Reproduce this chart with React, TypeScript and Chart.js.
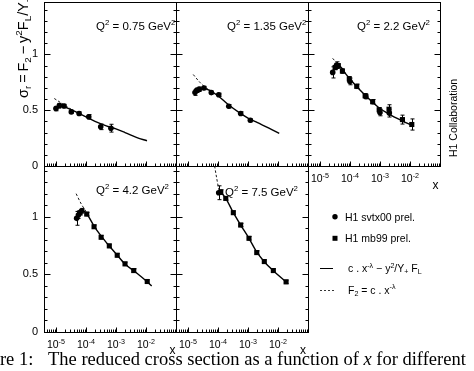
import React, { useEffect, useRef } from 'react';
import { Chart, registerables } from 'chart.js';
Chart.register(...registerables);

type Pt = [number, number, number];
type XY = [number, number];

// ---------- data (x, y, error) ----------
const q2Values = ['0.75', '1.35', '2.2', '4.2', '7.5'];

const q075Svtx: Pt[] = [[1.0e-5, 0.515, 0.02], [1.3e-5, 0.541, 0.02], [1.86e-5, 0.538, 0.015], [3.25e-5, 0.485, 0.015], [5.9e-5, 0.471, 0.015], [1.24e-4, 0.441, 0.02], [3.1e-4, 0.351, 0.025], [6.8e-4, 0.339, 0.035]];
const q075Fit: XY[] = [[1.15e-5, 0.55], [2e-5, 0.528], [3.5e-5, 0.5], [5e-5, 0.48], [1e-4, 0.44], [2e-4, 0.4], [5e-4, 0.358], [1e-3, 0.332], [2e-3, 0.3], [5e-3, 0.255], [1.08e-2, 0.226]];
const q075Dash: XY[] = [[8.8e-6, 0.605], [1.4e-5, 0.57], [2.3e-5, 0.533], [3.5e-5, 0.502]];

const q135Svtx: Pt[] = [[1.72e-5, 0.658, 0.025], [1.96e-5, 0.679, 0.02], [2.4e-5, 0.688, 0.02], [3.4e-5, 0.699, 0.015], [6.0e-5, 0.658, 0.015], [1.06e-4, 0.638, 0.015], [2.29e-4, 0.535, 0.015], [5.7e-4, 0.471, 0.015], [1.2e-3, 0.41, 0.015]];
const q135Fit: XY[] = [[1.65e-5, 0.64], [2.2e-5, 0.675], [3.2e-5, 0.7], [5e-5, 0.68], [1e-4, 0.63], [2e-4, 0.56], [5e-4, 0.48], [1e-3, 0.43], [2e-3, 0.39], [5e-3, 0.34], [1.1e-2, 0.293]];
const q135Dash: XY[] = [[1.5e-5, 0.82], [2.5e-5, 0.75], [4e-5, 0.7], [6e-5, 0.675]];

const q22Svtx: Pt[] = [[2.66e-5, 0.839, 0.05], [3.6e-5, 0.904, 0.03], [1.0e-4, 0.758, 0.03], [3.4e-4, 0.623, 0.02], [1.0e-3, 0.48, 0.03], [2.05e-3, 0.474, 0.035]];
const q22Mb99: Pt[] = [[3.2e-5, 0.883, 0.02], [4.1e-5, 0.898, 0.02], [5.6e-5, 0.851, 0.02], [9.5e-5, 0.781, 0.02], [1.68e-4, 0.714, 0.02], [3.2e-4, 0.629, 0.02], [5.7e-4, 0.576, 0.02], [9.4e-4, 0.504, 0.02], [2.0e-3, 0.509, 0.04], [5.6e-3, 0.416, 0.04], [1.15e-2, 0.372, 0.05]];
const q22Fit: XY[] = [[2.7e-5, 0.85], [3.5e-5, 0.89], [4.5e-5, 0.895], [7e-5, 0.83], [1e-4, 0.78], [2e-4, 0.69], [5e-4, 0.585], [1e-3, 0.515], [2e-3, 0.465], [5e-3, 0.41], [1.15e-2, 0.365]];
const q22Dash: XY[] = [[2.65e-5, 0.965], [3.6e-5, 0.925], [5e-5, 0.885], [7e-5, 0.835]];

const q42Svtx: Pt[] = [[4.9e-5, 0.986, 0.06], [5.6e-5, 1.015, 0.03], [7.2e-5, 1.052, 0.02]];
const q42Mb99: Pt[] = [[6.3e-5, 1.035, 0.02], [1.06e-4, 1.023, 0.015], [1.86e-4, 0.913, 0.015], [3.2e-4, 0.822, 0.015], [6.0e-4, 0.747, 0.015], [1.1e-3, 0.666, 0.015], [2.0e-3, 0.591, 0.015], [3.9e-3, 0.533, 0.015], [1.1e-2, 0.438, 0.015]];
const q42Fit: XY[] = [[4.8e-5, 0.97], [6e-5, 1.03], [8e-5, 1.05], [1e-4, 1.035], [2e-4, 0.905], [5e-4, 0.77], [1e-3, 0.68], [2e-3, 0.59], [5e-3, 0.51], [1e-2, 0.445], [1.55e-2, 0.4]];
const q42Dash: XY[] = [[4.7e-5, 1.2], [7e-5, 1.11], [1.1e-4, 1.03]];

const q75Svtx: Pt[] = [[1.06e-4, 1.208, 0.06]];
const q75Mb99: Pt[] = [[1.24e-4, 1.214, 0.02], [1.82e-4, 1.159, 0.015], [3.25e-4, 1.035, 0.015], [5.7e-4, 0.928, 0.015], [1.08e-3, 0.813, 0.015], [1.96e-3, 0.689, 0.015], [3.5e-3, 0.611, 0.015], [7.0e-3, 0.533, 0.015], [1.86e-2, 0.435, 0.015]];
const q75Fit: XY[] = [[1.05e-4, 1.225], [1.25e-4, 1.21], [1.82e-4, 1.16], [3.25e-4, 1.035], [5.7e-4, 0.928], [1.08e-3, 0.813], [2e-3, 0.69], [3.5e-3, 0.61], [7e-3, 0.532], [1.86e-2, 0.435]];
const q75Dash: XY[] = [[7.3e-5, 1.48], [9e-5, 1.34], [1.05e-4, 1.25], [1.2e-4, 1.215]];

const xTickExps = [-5, -4, -3, -2];
const yTickVals = [0, 0.5, 1];
const legendLabels = ['H1 svtx00 prel.', 'H1 mb99 prel.'];

// ---------- layout ----------
const W = 474;
const H = 373;
const OFF = 2;
const X_MIN = 4e-6;
const X_MAX = 0.1;
const FONT = '"Liberation Sans", Arial, Helvetica, sans-serif';
const THIN = '\u2009';

type Seg = [string, number];

type Panel = {
  q2: string; svtx: Pt[]; mb99: Pt[]; fit: XY[]; dash: XY[];
  box: [number, number, number, number]; yMax: number;
  yLabels: boolean; xLabels: boolean; xTitle: [number, number] | null;
  q2Pos: [number, number]; extras?: boolean;
};

const panels: Panel[] = [
  { q2: q2Values[0], svtx: q075Svtx, mb99: [], fit: q075Fit, dash: q075Dash, box: [44, -2, 176, 166], yMax: 1.47, yLabels: true, xLabels: false, xTitle: null, q2Pos: [96, 30] },
  { q2: q2Values[1], svtx: q135Svtx, mb99: [], fit: q135Fit, dash: q135Dash, box: [176, -2, 308, 166], yMax: 1.47, yLabels: false, xLabels: false, xTitle: null, q2Pos: [227, 30] },
  { q2: q2Values[2], svtx: q22Svtx, mb99: q22Mb99, fit: q22Fit, dash: q22Dash, box: [308, -2, 440, 166], yMax: 1.47, yLabels: false, xLabels: true, xTitle: [435.5, 188.5], q2Pos: [357, 30], extras: true },
  { q2: q2Values[3], svtx: q42Svtx, mb99: q42Mb99, fit: q42Fit, dash: q42Dash, box: [44, 166, 176, 332], yMax: 1.44, yLabels: true, xLabels: true, xTitle: [172.5, 354], q2Pos: [96, 194] },
  { q2: q2Values[4], svtx: q75Svtx, mb99: q75Mb99, fit: q75Fit, dash: q75Dash, box: [176, 166, 308, 332], yMax: 1.44, yLabels: false, xLabels: true, xTitle: [303, 354], q2Pos: [225, 196] },
];

function drawRich(ctx: CanvasRenderingContext2D, segs: Seg[], x: number, y: number, size: number, align: 'left' | 'center' | 'right' = 'left') {
  ctx.save();
  ctx.textBaseline = 'alphabetic';
  ctx.textAlign = 'left';
  ctx.fillStyle = '#000';
  const parts = segs.map(([t, k]) => {
    const s = k === 0 ? size : size * 0.68;
    ctx.font = `${s}px ${FONT}`;
    return { t, k, s, w: ctx.measureText(t).width };
  });
  const total = parts.reduce((a, p) => a + p.w, 0);
  let cx = align === 'left' ? x : align === 'center' ? x - total / 2 : x - total;
  for (const p of parts) {
    ctx.font = `${p.s}px ${FONT}`;
    const dy = p.k === 1 ? -size * 0.42 : p.k === -1 ? size * 0.22 : 0;
    ctx.fillText(p.t, cx, y + dy);
    cx += p.w;
  }
  ctx.restore();
}

function drawExtras(ctx: CanvasRenderingContext2D) {
  ctx.save();
  ctx.translate(0, OFF);
  // y-axis title (rotated)
  ctx.save();
  ctx.translate(28, 98);
  ctx.rotate(-Math.PI / 2);
  drawRich(ctx, [['σ', 0], ['r', -1], [THIN + '=' + THIN + 'F', 0], ['2', -1], [THIN + '−' + THIN + 'y', 0], ['2', 1], ['F', 0], ['L', -1], ['/Y', 0], ['+', -1]], 0, 0, 14.5);
  ctx.restore();
  // H1 Collaboration
  ctx.save();
  ctx.translate(457, 157);
  ctx.rotate(-Math.PI / 2);
  drawRich(ctx, [['H1 Collaboration', 0]], 0, 0, 10.5);
  ctx.restore();
  // legend
  ctx.fillStyle = '#000';
  ctx.beginPath();
  ctx.arc(335, 216.7, 2.7, 0, Math.PI * 2);
  ctx.fill();
  ctx.fillRect(332.5, 235.8, 5, 5);
  drawRich(ctx, [[legendLabels[0], 0]], 345, 220.5, 10.5);
  drawRich(ctx, [[legendLabels[1], 0]], 345, 242, 10.5);
  ctx.strokeStyle = '#000';
  ctx.lineWidth = 1;
  ctx.beginPath();
  ctx.moveTo(320, 268.5);
  ctx.lineTo(333, 268.5);
  ctx.stroke();
  ctx.setLineDash([2, 2]);
  ctx.lineWidth = 0.8;
  ctx.beginPath();
  ctx.moveTo(320, 290.5);
  ctx.lineTo(334, 290.5);
  ctx.stroke();
  ctx.setLineDash([]);
  drawRich(ctx, [['c . x', 0], ['-λ', 1], [' − y', 0], ['2', 1], ['/Y', 0], ['+', -1], [' F', 0], ['L', -1]], 348, 272, 10.5);
  drawRich(ctx, [['F', 0], ['2', -1], [' = c . x', 0], ['-λ', 1]], 348, 293.5, 10.5);
  ctx.restore();
}

function makeDecor(p: Panel) {
  return {
    id: 'decor',
    beforeDatasetsDraw(chart: any) {
      const ctx: CanvasRenderingContext2D = chart.ctx;
      const xs = chart.scales.x;
      const ys = chart.scales.y;
      ctx.save();
      ctx.strokeStyle = '#000';
      ctx.lineWidth = 1;
      for (const arr of [p.svtx, p.mb99]) {
        for (const [x, y, e] of arr) {
          const px = Math.round(xs.getPixelForValue(x)) + 0.5;
          const y1 = ys.getPixelForValue(y - e);
          const y2 = ys.getPixelForValue(y + e);
          ctx.beginPath();
          ctx.moveTo(px, y1);
          ctx.lineTo(px, y2);
          ctx.moveTo(px - 2, y1);
          ctx.lineTo(px + 2, y1);
          ctx.moveTo(px - 2, y2);
          ctx.lineTo(px + 2, y2);
          ctx.stroke();
        }
      }
      ctx.restore();
    },
    afterDraw(chart: any) {
      const ctx: CanvasRenderingContext2D = chart.ctx;
      const xs = chart.scales.x;
      const ys = chart.scales.y;
      const { left, right, top, bottom } = chart.chartArea;
      ctx.save();
      ctx.strokeStyle = '#000';
      ctx.lineWidth = 1;
      ctx.strokeRect(left + 0.5, top + 0.5, right - left, bottom - top);
      ctx.beginPath();
      // x ticks
      for (let e = -6; e <= -1; e++) {
        for (let m = 1; m <= 9; m++) {
          const v = m * Math.pow(10, e);
          if (v < X_MIN * 0.999 || v > X_MAX * 1.001) continue;
          const px = Math.round(xs.getPixelForValue(v)) + 0.5;
          const len = m === 1 ? 5 : 3;
          ctx.moveTo(px, bottom + 0.5);
          ctx.lineTo(px, bottom + 0.5 - len);
        }
      }
      // y ticks
      for (let k = 0; k <= Math.floor(p.yMax * 10 + 1e-6); k++) {
        const v = k / 10;
        const py = Math.round(ys.getPixelForValue(v)) + 0.5;
        const len = k % 5 === 0 ? 6 : 3;
        ctx.moveTo(left + 0.5, py);
        ctx.lineTo(left + 0.5 + len, py);
        ctx.moveTo(right + 0.5, py);
        ctx.lineTo(right + 0.5 - len, py);
      }
      ctx.stroke();
      ctx.fillStyle = '#000';
      if (p.yLabels) {
        ctx.font = `11px ${FONT}`;
        ctx.textAlign = 'right';
        ctx.textBaseline = 'middle';
        for (const v of yTickVals) {
          ctx.fillText(String(v), left - 6, ys.getPixelForValue(v));
        }
      }
      if (p.xLabels) {
        for (const e of xTickExps) {
          const px = xs.getPixelForValue(Math.pow(10, e));
          drawRich(ctx, [['10', 0], [String(e), 1]], px, bottom + 16, 10.5, 'center');
        }
      }
      if (p.xTitle) {
        ctx.font = `12px ${FONT}`;
        ctx.textAlign = 'center';
        ctx.textBaseline = 'alphabetic';
        ctx.fillText('x', p.xTitle[0], p.xTitle[1] + OFF);
      }
      drawRich(ctx, [['Q', 0], ['2', 1], [' = ' + p.q2 + ' GeV', 0], ['2', 1]], p.q2Pos[0], p.q2Pos[1] + OFF, 11.5);
      ctx.restore();
      if (p.extras) drawExtras(ctx);
    },
  };
}

function PanelChart({ p }: { p: Panel }) {
  const ref = useRef<HTMLCanvasElement>(null);
  useEffect(() => {
    const toPts = (a: (Pt | XY)[]) => a.map((d) => ({ x: d[0], y: d[1] }));
    const chart = new Chart(ref.current as HTMLCanvasElement, {
      type: 'scatter',
      data: {
        datasets: [
          { label: 'fit', data: toPts(p.fit), showLine: true, pointRadius: 0, borderColor: '#000', borderWidth: 1.4, cubicInterpolationMode: 'monotone', fill: false } as any,
          { label: 'F2', data: toPts(p.dash), showLine: true, pointRadius: 0, borderColor: '#000', borderWidth: 0.9, borderDash: [2.5, 2], cubicInterpolationMode: 'monotone', fill: false } as any,
          { label: 'svtx00', data: toPts(p.svtx), showLine: false, pointStyle: 'circle', pointRadius: 2.8, backgroundColor: '#000', borderColor: '#000', borderWidth: 0 } as any,
          { label: 'mb99', data: toPts(p.mb99), showLine: false, pointStyle: 'rect', pointRadius: 3.6, backgroundColor: '#000', borderColor: '#000', borderWidth: 0 } as any,
        ],
      },
      options: {
        animation: false,
        responsive: false,
        devicePixelRatio: 1,
        events: [],
        layout: { padding: { left: p.box[0], top: p.box[1] + OFF, right: W - p.box[2], bottom: H - (p.box[3] + OFF) } },
        plugins: { legend: { display: false }, tooltip: { enabled: false } },
        scales: {
          x: { type: 'logarithmic', min: X_MIN, max: X_MAX, display: false },
          y: { type: 'linear', min: 0, max: p.yMax, display: false },
        },
      },
      plugins: [makeDecor(p)],
    });
    return () => chart.destroy();
  }, []);
  return <canvas ref={ref} width={W} height={H} style={{ position: 'absolute', left: 0, top: -OFF, width: W, height: H }} />;
}

export default function App() {
  const serif = '"Liberation Serif", "Times New Roman", serif';
  return (
    <div style={{ position: 'fixed', left: 0, top: 0, width: 474, height: 371, overflow: 'hidden', background: '#fff' }}>
      {panels.map((p, i) => <PanelChart key={i} p={p} />)}
      <div style={{ position: 'absolute', left: -34, top: 349.5, whiteSpace: 'nowrap', fontFamily: serif, fontSize: 18.5, lineHeight: 1, color: '#000' }}>Figure 1:</div>
      <div style={{ position: 'absolute', left: 48, top: 349.5, whiteSpace: 'nowrap', fontFamily: serif, fontSize: 18.5, lineHeight: 1, color: '#000' }}>
        The reduced cross section as a function of <i>x</i> for different
      </div>
    </div>
  );
}
